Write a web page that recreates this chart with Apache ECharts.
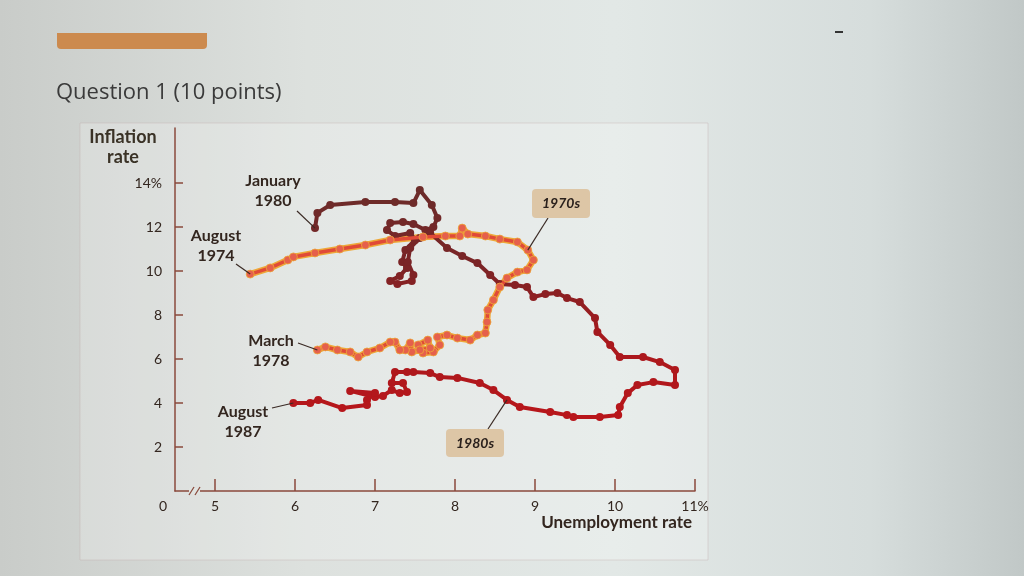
<!DOCTYPE html>
<html><head><meta charset="utf-8">
<script src="https://cdn.jsdelivr.net/npm/echarts@6/dist/echarts.min.js"></script>
<style>html,body{margin:0;padding:0;background:#d9dcd9;}#c{width:1024px;height:576px;}</style>
</head><body><div id="c"></div>
<script>
// ---- data ----
const xTickValues = [5, 6, 7, 8, 9, 10, 11];
const xLabelValues = [4.5, 5, 6, 7, 8, 9, 10, 11];
const yTickValues = [2, 4, 6, 8, 10, 12, 14];
const yTickLabels = ['2', '4', '6', '8', '10', '12', '14%'];

// 1970s: August 1974 -> March 1978 (unemployment %, inflation %)
const unemp1970s = [5.44,5.69,5.91,5.98,6.25,6.56,6.88,7.19,7.60,7.88,8.06,8.09,8.16,8.38,8.56,8.78,8.91,8.98,8.90,8.78,8.65,8.56,8.48,8.41,8.40,8.38,8.28,8.19,8.03,7.90,7.78,7.81,7.73,7.60,7.54,7.66,7.69,7.56,7.46,7.44,7.38,7.31,7.25,7.19,7.06,6.90,6.79,6.69,6.53,6.38,6.28];
const infl1970s  = [9.86,10.14,10.50,10.64,10.82,11.00,11.18,11.41,11.55,11.59,11.59,11.95,11.68,11.59,11.45,11.32,10.95,10.50,10.05,9.95,9.68,9.27,8.68,8.23,7.68,7.18,7.09,6.86,6.95,7.09,7.00,6.64,6.32,6.27,6.64,6.86,6.50,6.41,6.32,6.73,6.41,6.41,6.77,6.77,6.50,6.32,6.09,6.32,6.41,6.55,6.41];

// 1980s: January 1980 -> August 1987
const unemp1980s = [6.25,6.28,6.44,6.88,7.25,7.48,7.56,7.71,7.78,7.73,7.63,7.48,7.35,7.19,7.15,7.25,7.44,7.50,7.38,7.34,7.40,7.31,7.19,7.28,7.46,7.48,7.41,7.44,7.56,7.69,7.90,8.09,8.28,8.44,8.56,8.75,8.90,8.98,9.13,9.28,9.40,9.56,9.75,9.78,9.94,10.06,10.35,10.56,10.75,10.75,10.48,10.28,10.16,10.06,10.04,9.81,9.48,9.40,9.19,8.81,8.65,8.48,8.31,8.03,7.81,7.69,7.48,7.40,7.25,7.21,7.35,7.40,7.31,7.21,7.10,7.00,6.69,7.00,6.90,6.90,6.59,6.29,6.19,5.98];
const infl1980s  = [11.95,12.64,13.00,13.14,13.14,13.09,13.68,13.00,12.41,12.00,11.86,12.14,12.23,12.18,11.86,11.59,11.73,11.41,10.95,10.41,10.14,9.77,9.55,9.41,9.55,9.82,10.41,11.05,11.50,11.73,11.05,10.68,10.36,9.82,9.41,9.36,9.27,8.82,8.95,9.00,8.77,8.59,7.86,7.23,6.64,6.09,6.09,5.86,5.50,4.82,4.95,4.82,4.45,3.82,3.45,3.36,3.36,3.45,3.59,3.82,4.14,4.59,4.91,5.14,5.18,5.36,5.41,5.41,5.41,4.91,4.91,4.50,4.45,4.59,4.32,4.27,4.55,4.45,4.14,3.91,3.77,4.14,4.00,4.00];

const periodLabels = ['1970s', '1980s'];
const endpointLabels = ['August\n1974', 'March\n1978', 'January\n1980', 'August\n1987'];

const data70 = unemp1970s.map((u, i) => [u, infl1970s[i]]);
const data80 = unemp1980s.map((u, i) => [u, infl1980s[i]]);

const TXT = '#33261f';
const AX = '#8a4a3c';
const FONT = 'Lato, "Noto Sans", sans-serif';

const chart = echarts.init(document.getElementById('c'));
chart.setOption({
  animation: false,
  backgroundColor: 'transparent',
  grid: { left: 175, right: 329, top: 128, bottom: 85 },
  xAxis: {
    type: 'value', min: 4.5, max: 11,
    axisLine: { lineStyle: { color: AX, width: 1.5 } },
    axisTick: { show: true, inside: true, length: 12, customValues: xTickValues, lineStyle: { color: AX, width: 1.5 } },
    axisLabel: {
      customValues: xLabelValues, margin: 8, color: TXT, fontFamily: FONT, fontSize: 14,
      formatter: v => v === 4.5 ? '{o|0}' : (v === 11 ? '11%' : String(v)),
      rich: { o: { padding: [0, 24, 0, 0], color: TXT, fontFamily: FONT, fontSize: 14 } }
    },
    splitLine: { show: false }
  },
  yAxis: {
    type: 'value', min: 0, max: 16.5,
    axisLine: { show: true, lineStyle: { color: AX, width: 1.5 } },
    axisTick: { show: true, inside: true, length: 8, customValues: yTickValues, lineStyle: { color: AX, width: 1.5 } },
    axisLabel: {
      customValues: yTickValues, margin: 13, color: TXT, fontFamily: FONT, fontSize: 14,
      formatter: v => yTickLabels[yTickValues.indexOf(v)]
    },
    splitLine: { show: false }
  },
  visualMap: {
    show: false, type: 'continuous', seriesIndex: 2, dimension: 1,
    min: 3.3, max: 13.7,
    inRange: { color: ['#b8161b', '#a9191d', '#7b2426', '#6b2c2a'] }
  },
  series: [
    { name: '1970s halo', type: 'line', data: data70, symbol: 'none', z: 3,
      lineStyle: { color: '#eea838', width: 6.5, join: 'round' } },
    { name: periodLabels[0], type: 'line', data: data70, z: 4,
      symbol: 'circle', symbolSize: 8,
      lineStyle: { color: '#e04a38', width: 3.5 },
      itemStyle: { color: '#e5604c', borderColor: '#eea838', borderWidth: 0.8 } },
    { name: periodLabels[1], type: 'line', data: data80, z: 3,
      symbol: 'circle', symbolSize: 8,
      lineStyle: { width: 4, join: 'round' } }
  ]
});

function px(pt) { return chart.convertToPixel({ gridIndex: 0 }, pt); }

const notes = [
  { text: endpointLabels[0], pt: data70[0], at: [216, 246], from: [236, 264] },
  { text: endpointLabels[1], pt: data70[data70.length - 1], at: [271, 351], from: [298, 343] },
  { text: endpointLabels[2], pt: data80[0], at: [273, 191], from: [297, 211] },
  { text: endpointLabels[3], pt: data80[data80.length - 1], at: [243, 422], from: [272, 408] }
];
const boxes = [
  { text: periodLabels[0], pt: data70[16], box: [532, 189, 58, 29], from: [548, 218] },
  { text: periodLabels[1], pt: data80[60], box: [446, 429, 58, 28], from: [488, 429] }
];

const g = [];
// page background
g.push({ type: 'rect', z: -100, shape: { x: 0, y: 0, width: 1024, height: 576 },
  style: { fill: new echarts.graphic.LinearGradient(0, 0, 1, 0, [
    { offset: 0, color: '#c9ccc9' }, { offset: 0.3, color: '#dde1de' },
    { offset: 0.6, color: '#e2e8e6' }, { offset: 0.85, color: '#d6dddc' }, { offset: 1, color: '#c1c8c7' }]) } });
g.push({ type: 'rect', z: -99, shape: { x: 80, y: 123, width: 628, height: 437 },
  style: { fill: 'rgba(255,255,255,0.22)', stroke: 'rgba(190,170,170,0.35)', lineWidth: 1 } });
// header
g.push({ type: 'rect', z: -98, shape: { x: 57, y: 33, width: 150, height: 16, r: [0, 0, 4, 4] }, style: { fill: '#cc8a4e' } });
g.push({ type: 'rect', z: -98, shape: { x: 835, y: 31, width: 8, height: 2 }, style: { fill: '#333' } });
g.push({ type: 'text', x: 56, y: 93, style: { text: 'Question 1 (10 points)', font: '22px "Open Sans", sans-serif', fill: '#3a3a3a', verticalAlign: 'middle' } });
// axis titles
g.push({ type: 'text', x: 123, y: 147, style: { text: 'Inflation\nrate', font: 'bold 18px ' + FONT, fill: '#3a3226', align: 'center', verticalAlign: 'middle', lineHeight: 20 } });
g.push({ type: 'text', x: 692, y: 523, style: { text: 'Unemployment rate', font: 'bold 17px ' + FONT, fill: TXT, align: 'right', verticalAlign: 'middle' } });
// axis break
const o = px([4.75, 0]);
g.push({ type: 'rect', z: 5, shape: { x: o[0] - 6, y: o[1] - 3, width: 11, height: 6 }, style: { fill: '#e0e4e1' } });
g.push({ type: 'line', z: 6, shape: { x1: o[0] - 6, y1: o[1] + 4, x2: o[0] - 1, y2: o[1] - 4 }, style: { stroke: AX, lineWidth: 1.3 } });
g.push({ type: 'line', z: 6, shape: { x1: o[0], y1: o[1] + 4, x2: o[0] + 5, y2: o[1] - 4 }, style: { stroke: AX, lineWidth: 1.3 } });

notes.forEach(n => {
  const p = px(n.pt);
  g.push({ type: 'text', x: n.at[0], y: n.at[1], z: 10,
    style: { text: n.text, font: 'bold 16px ' + FONT, fill: TXT, align: 'center', verticalAlign: 'middle', lineHeight: 20 } });
  g.push({ type: 'line', z: 10, shape: { x1: n.from[0], y1: n.from[1], x2: p[0], y2: p[1] }, style: { stroke: '#3a2a24', lineWidth: 1.2 } });
});
boxes.forEach(b => {
  const p = px(b.pt);
  g.push({ type: 'line', z: 10, shape: { x1: b.from[0], y1: b.from[1], x2: p[0], y2: p[1] }, style: { stroke: '#3a2a24', lineWidth: 1.2 } });
  g.push({ type: 'rect', z: 10, shape: { x: b.box[0], y: b.box[1], width: b.box[2], height: b.box[3], r: 4 }, style: { fill: '#ddc6a6' } });
  g.push({ type: 'text', z: 11, x: b.box[0] + b.box[2] / 2, y: b.box[1] + b.box[3] / 2,
    style: { text: b.text, font: 'italic bold 14px ' + FONT, fill: '#2a201c', align: 'center', verticalAlign: 'middle' } });
});

chart.setOption({ graphic: { elements: g } });
</script>
</body></html>
